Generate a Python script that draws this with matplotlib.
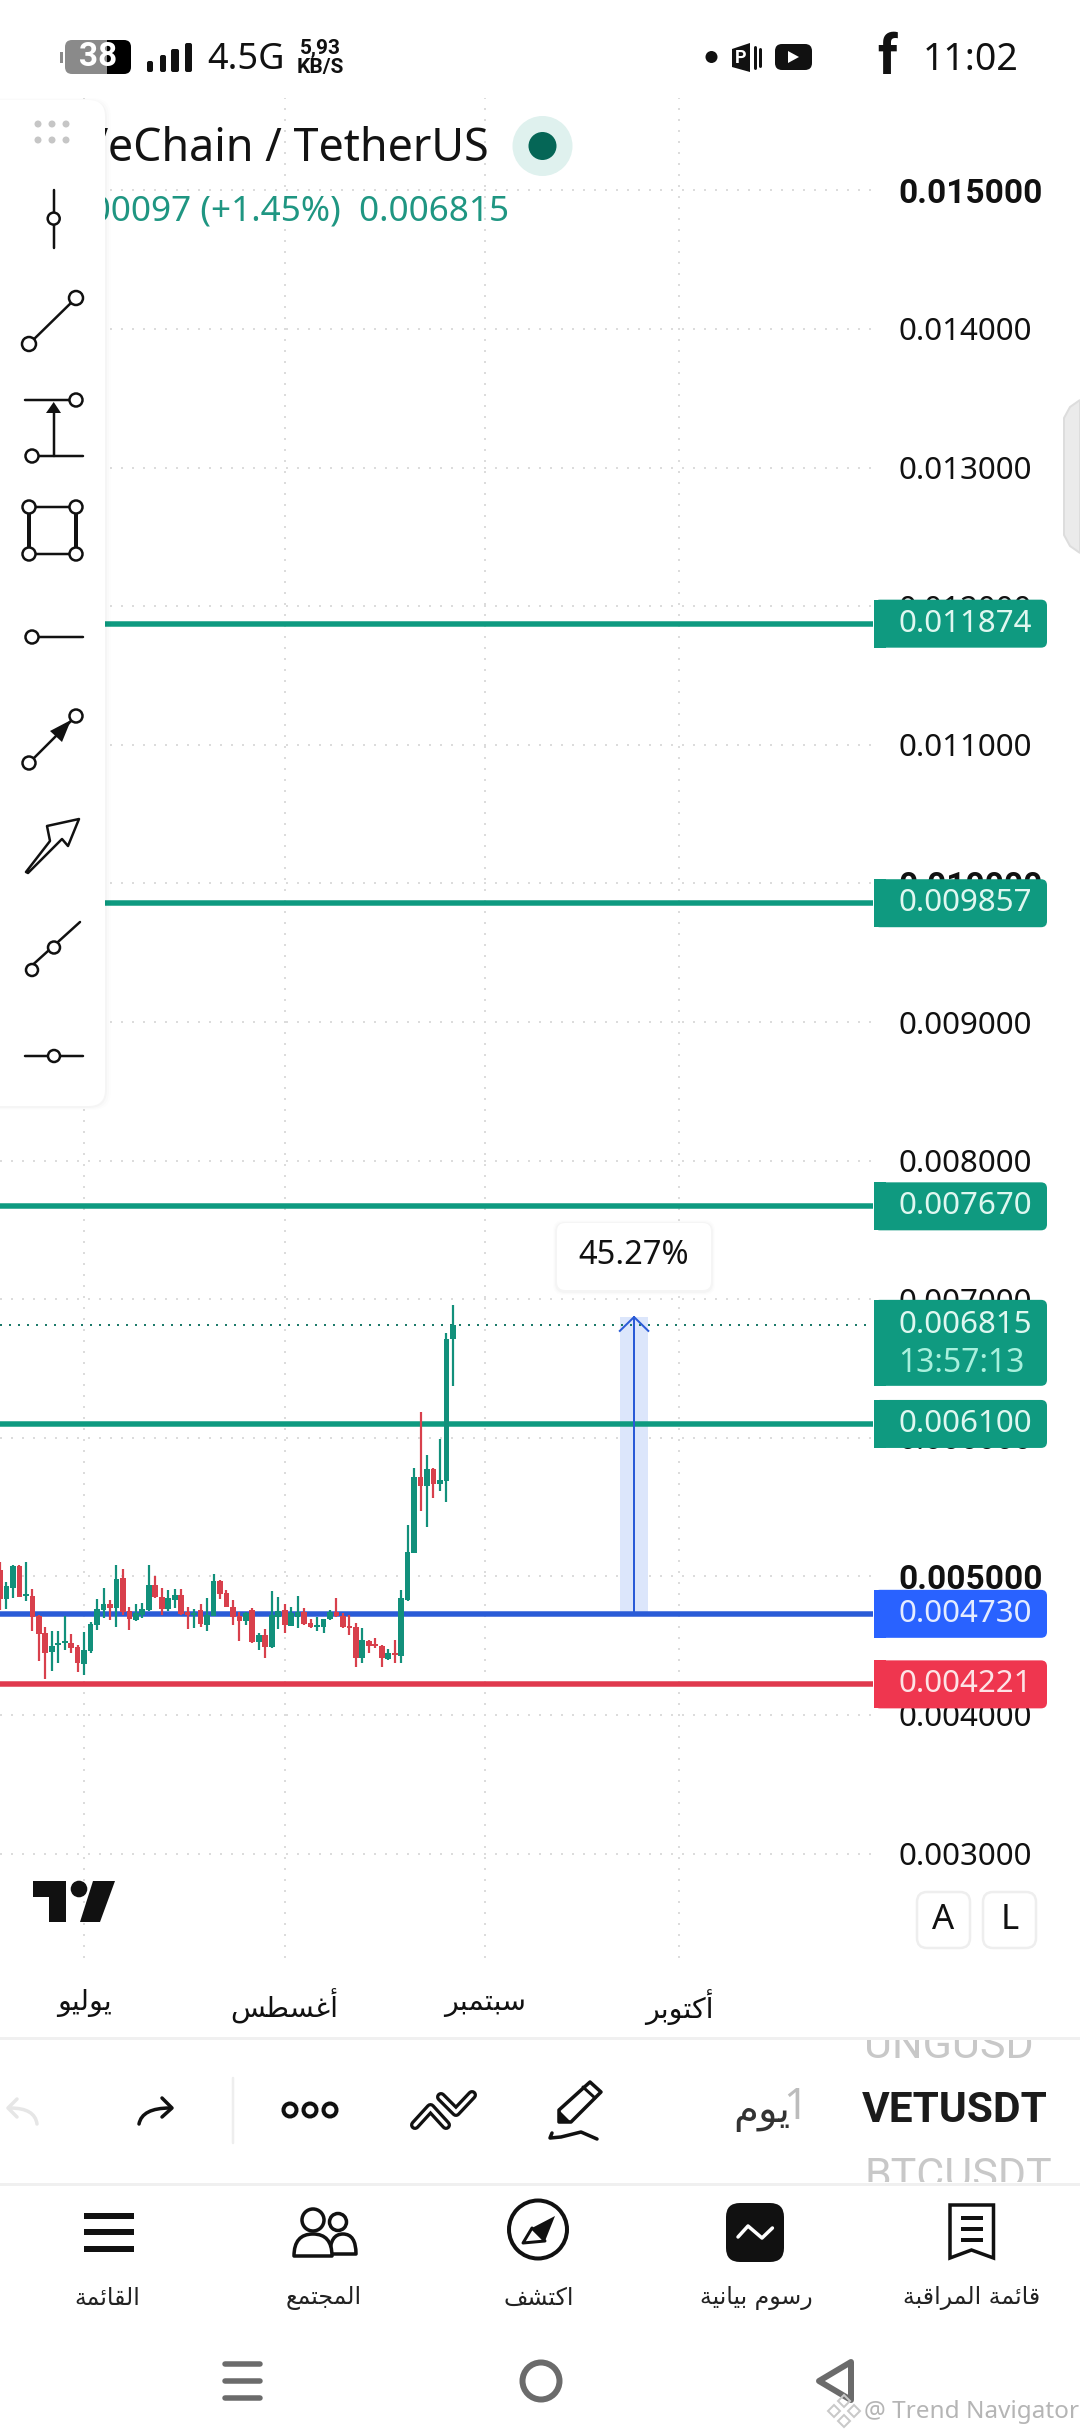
import unicodedata
import matplotlib
matplotlib.use('Agg')
import matplotlib.pyplot as plt
from matplotlib.patches import Circle, FancyBboxPatch, PathPatch, Polygon, Rectangle
from matplotlib.path import Path

plt.rcParams['font.family'] = ['Noto Sans', 'DejaVu Sans']

# prices, in millionths
opens = [5046, 4834, 4918, 5075, 4858, 4858, 4714, 4589, 4454, 4507, 4522, 4522, 4493, 4370, 4464, 4649, 4757, 4801,
         4774, 4988, 4753, 4685, 4721, 4757, 4938, 4854, 4762, 4829, 4866, 4745, 4721, 4757, 4649, 4716, 4969, 4882,
         4777, 4714, 4680, 4757, 4529, 4577, 4493, 4704, 4757, 4644, 4704, 4745, 4661, 4637, 4637, 4690, 4745, 4714,
         4642, 4632, 4413, 4536, 4512, 4498, 4401, 4445, 4428, 4829, 5171, 5719, 5654, 5775, 5666, 5690, 6713]
highs = [5106, 4962, 5082, 5082, 5104, 4906, 4721, 4637, 4606, 4606, 4714, 4582, 4505, 4596, 4673, 4837, 4914, 4829,
         5082, 5051, 4777, 4798, 4805, 5082, 5003, 4914, 4902, 4906, 4906, 4781, 4762, 4801, 4842, 5017, 4974, 4902,
         4829, 4745, 4745, 4769, 4594, 4618, 4894, 4849, 4801, 4777, 4858, 4769, 4690, 4704, 4692, 4757, 4842, 4733,
         4721, 4661, 4625, 4541, 4553, 4505, 4474, 4541, 4902, 5371, 5779, 6184, 5876, 5779, 5989, 6758, 6958]
lows = [4757, 4765, 4846, 4850, 4822, 4608, 4389, 4262, 4320, 4377, 4469, 4445, 4312, 4288, 4445, 4613, 4697, 4685,
        4635, 4721, 4613, 4680, 4697, 4753, 4845, 4721, 4750, 4769, 4721, 4623, 4630, 4632, 4608, 4712, 4839, 4777,
        4649, 4536, 4649, 4517, 4469, 4413, 4481, 4620, 4594, 4642, 4630, 4651, 4627, 4608, 4594, 4685, 4709, 4627,
        4577, 4349, 4377, 4450, 4481, 4349, 4397, 4373, 4377, 4825, 5167, 5474, 5359, 5563, 5618, 5539, 6376]
closes = [4839, 4930, 5077, 4854, 4870, 4709, 4584, 4450, 4498, 4517, 4534, 4483, 4377, 4469, 4656, 4762, 4801, 4769,
          4981, 4745, 4690, 4738, 4762, 4938, 4849, 4762, 4842, 4866, 4728, 4721, 4733, 4656, 4721, 4967, 4873, 4781,
          4704, 4680, 4738, 4529, 4577, 4490, 4721, 4753, 4649, 4738, 4745, 4656, 4632, 4649, 4690, 4745, 4714, 4632,
          4630, 4413, 4541, 4498, 4500, 4409, 4450, 4433, 4842, 5173, 5719, 5654, 5772, 5666, 5695, 6710, 6815]

price_ticks = [0.015, 0.014, 0.013, 0.012, 0.011, 0.010, 0.009, 0.008, 0.007, 0.006, 0.005, 0.004, 0.003]
bold_ticks = [0.015, 0.010, 0.005]
month_positions = [13, 44, 75, 105]
month_labels = ['يوليو', 'أغسطس', 'سبتمبر', 'أكتوبر']

green_levels = [0.011874, 0.009857, 0.007670, 0.006100]
last_price = 0.006815
countdown = '13:57:13'
blue_level = 0.004730
red_level = 0.004221
measure_pct = 45.27
measure_pos = 98

nav_labels = ['القائمة', 'المجتمع', 'اكتشف', 'رسوم بيانية', 'قائمة المراقبة']
nav_centers = [107.6, 323.7, 539, 756, 971.5]

UP = '#12907b'
DOWN = '#d8404c'
TEAL = '#0e9a80'
BLUE = '#2a5bd7'
RED = '#e0394d'
INK = '#111111'
GRID = '#dcdcdc'
W, H = 1080, 2436


def px(n):
    return n * 0.72


def shape_arabic(s):
    # matplotlib has no shaper, pick presentation forms and lay out in visual order
    forms = {}
    for cp in range(0xFE70, 0xFEFD):
        d = unicodedata.decomposition(chr(cp)).split()
        if len(d) == 2:
            forms[(chr(int(d[1], 16)), d[0].strip('<>'))] = chr(cp)
    letters = {k[0] for k in forms}
    no_next = set('اأإآدذرزوؤةى')
    out = []
    for i, c in enumerate(s):
        if c not in letters:
            out.append(c)
            continue
        prev = s[i - 1] if i > 0 else ''
        nxt = s[i + 1] if i + 1 < len(s) else ''
        jp = prev in letters and prev not in no_next
        jn = c not in no_next and nxt in letters
        form = 'medial' if jp and jn else 'final' if jp else 'initial' if jn else 'isolated'
        out.append(forms.get((c, form), c))
    return ''.join(reversed(out))


fig = plt.figure(figsize=(W / 100, H / 100), dpi=100, facecolor='white')

# chart axes, one candle is 6.47 px wide, 0.001 is 138.6 px tall
ax = fig.add_axes([0, 1 - 1958 / H, 873 / W, (1958 - 98) / H])
ax.set_xlim(0, 873 / 6.47)
ax.set_ylim(0.004 - 243 / 138600, 0.004 + 1617 / 138600)
for s in ax.spines.values():
    s.set_visible(False)
ax.yaxis.tick_right()
ax.set_yticks(price_ticks)
ax.set_yticklabels([f'{v:.6f}' for v in price_ticks])
ax.set_xticks(month_positions)
ax.set_xticklabels([shape_arabic(m) for m in month_labels], family='DejaVu Sans', fontsize=20.5, color=INK)
ax.tick_params(axis='y', length=0, pad=18, labelsize=22.5, labelcolor=INK)
ax.tick_params(axis='x', length=0, pad=22)
for lab, v in zip(ax.get_yticklabels(), price_ticks):
    if v in bold_ticks:
        lab.set_fontfamily('Roboto')
        lab.set_fontweight('bold')
        lab.set_fontsize(24)
ax.grid(True, color=GRID, lw=px(2), ls=(0, (1, 4.5)))
ax.set_axisbelow(True)

xs = list(range(len(opens)))
for x, o, h, l, c in zip(xs, opens, highs, lows, closes):
    col = UP if c >= o else DOWN
    ax.vlines(x, l / 1e6, h / 1e6, color=col, lw=px(2.2), zorder=6)
    ax.bar(x, abs(c - o) / 1e6, bottom=min(o, c) / 1e6, width=0.88, color=col, lw=0, zorder=6)

for lv in green_levels:
    ax.axhline(lv, color=TEAL, lw=px(5.5), zorder=4)
ax.axhline(blue_level, color=BLUE, lw=px(5.5), zorder=4)
ax.axhline(red_level, color=RED, lw=px(5.5), zorder=4)
ax.axhline(last_price, color='#1c7a6a', lw=px(2), ls=(0, (1, 3.5)), zorder=3)

measure_top = blue_level * (1 + measure_pct / 100)
ax.fill_between([measure_pos - 2.2, measure_pos + 2.2], blue_level, measure_top, color='#dce6fb', lw=0, zorder=2)
ax.plot([measure_pos, measure_pos], [blue_level, measure_top], color=BLUE, lw=px(2), zorder=5)
ax.plot([measure_pos - 2.2, measure_pos, measure_pos + 2.2], [measure_top - 0.0001, measure_top, measure_top - 0.0001],
        color=BLUE, lw=px(2), zorder=5)

# everything around the chart goes in a pixel canvas on top
ui = fig.add_axes([0, 0, 1, 1], facecolor='none')
ui.set_xlim(0, W)
ui.set_ylim(H, 0)
ui.axis('off')


def y_of(p):
    return H - ax.transData.transform((0, p))[1]


def label(x, y, s, size, color=INK, weight='normal', ha='center', family=None, z=20, **kw):
    kw2 = {'family': family} if family else {}
    return ui.text(x, y, s, fontsize=size, color=color, fontweight=weight, ha=ha, va='center', zorder=z, **kw2, **kw)


def box(x0, y0, x1, y1, r=6, fc=INK, ec='none', lw=0, z=10):
    p = FancyBboxPatch((x0 + r, y0 + r), x1 - x0 - 2 * r, y1 - y0 - 2 * r, boxstyle=f'round,pad={r},rounding_size={r}',
                       fc=fc, ec=ec, lw=lw, zorder=z)
    ui.add_patch(p)
    return p


def tag(y0, y1, fc):
    # square on the chart side, round on the outer side
    box(874, y0, 1047, y1, fc=fc)
    ui.add_patch(Rectangle((874, y0), 12, y1 - y0, fc=fc, zorder=10))


def line(pts, color=INK, w=2.5, z=30):
    ui.plot([a for a, _ in pts], [b for _, b in pts], color=color, lw=px(w), zorder=z,
            solid_capstyle='round', solid_joinstyle='round')


def dot(x, y, r, fc='white', ec=INK, w=2.5, z=31):
    ui.add_patch(Circle((x, y), r, fc=fc, ec=ec, lw=px(w), zorder=z))


def curve(verts, codes, color=INK, w=3.5, z=30):
    ui.add_patch(PathPatch(Path(verts, codes), fc='none', ec=color, lw=px(w), capstyle='round', joinstyle='round', zorder=z))


def dome(x0, y0, x1, y1, z):
    xm = (x0 + x1) / 2
    verts = [(x0, y1), (x0, y0), (xm, y0), (x1, y0), (x1, y1), (x0, y1)]
    codes = [Path.MOVETO, Path.CURVE3, Path.CURVE3, Path.CURVE3, Path.CURVE3, Path.CLOSEPOLY]
    ui.add_patch(PathPatch(Path(verts, codes), fc='white', ec=INK, lw=px(3.5), joinstyle='round', zorder=z))


# price tags
for lv in green_levels:
    yc = y_of(lv)
    tag(yc - 24, yc + 24, '#0f9a80')
    label(898, yc, f'{lv:.6f}', 22.5, color='#dff7f0', ha='left')
yc = y_of(last_price)
tag(yc - 25, yc + 61, '#0f9a80')
label(898, yc, f'{last_price:.6f}', 22.5, color='#dff7f0', ha='left')
label(898, yc + 39, countdown, 23, color='#a9f0dd', ha='left')
yc = y_of(blue_level)
tag(yc - 24, yc + 24, '#2962ff')
label(898, yc, f'{blue_level:.6f}', 22.5, color='#e4ecff', ha='left')
yc = y_of(red_level)
tag(yc - 24, yc + 24, '#ef364f')
label(898, yc, f'{red_level:.6f}', 22.5, color='#fde3e6', ha='left')

# measure label
for i, a in enumerate([0.008, 0.012, 0.018]):
    box(557 - 4 + i, 1223 - 3 + i, 711 + 4 - i, 1290 + 5 - i, r=10, fc='black', z=8).set_alpha(a)
box(557, 1223, 711, 1290, r=8, fc='white', z=9)
label(634, 1256, f'{measure_pct}%', 23.5)

# symbol header, the toolbar sits over its left end
label(489, 149, 'VeChain / TetherUS', 32.3, ha='right', color='#131313', z=5)
label(509, 211, '0.000097 (+1.45%)  0.006815', 25.3, ha='right', color='#1f9682', z=5)
ui.add_patch(Circle((542.5, 146), 30, fc='#dff1ee', ec='none', zorder=5))
ui.add_patch(Circle((542.5, 146), 14, fc='#056656', ec='none', zorder=6))

# tv logo
ui.add_patch(Polygon([(33, 1881), (66, 1881), (66, 1922), (49, 1922), (49, 1897), (33, 1897)], fc=INK, zorder=10))
ui.add_patch(Circle((79, 1889), 8.3, fc=INK, zorder=10))
ui.add_patch(Polygon([(93, 1881), (115, 1881), (100, 1922), (80, 1922)], fc=INK, zorder=10))

# auto / log buttons
box(917, 1892, 970, 1948, r=10, fc='white', ec='#eeeeee', lw=px(2.5))
box(983, 1892, 1036, 1948, r=10, fc='white', ec='#eeeeee', lw=px(2.5))
label(943.5, 1920, 'A', 25)
label(1009.5, 1920, 'L', 25)

# side handle on the right edge
ui.add_patch(Polygon([(1080, 400), (1070, 407), (1064, 418), (1064, 535), (1070, 546), (1080, 553)],
                     fc='#ebebeb', ec='#dddddd', lw=px(2), zorder=10))

# drawing toolbar
for i, a in enumerate([0.008, 0.012, 0.018]):
    box(-20, 100 - 2 + i, 111 - 2 * i, 1110 - i, r=18, fc='black', z=14).set_alpha(a)
box(-20, 100, 105, 1106, r=16, fc='white', z=15)
for gx in (38, 52, 66):
    for gy in (124, 140):
        ui.add_patch(Circle((gx, gy), 3.5, fc='#c6c6c6', zorder=30))
line([(53.7, 190), (53.7, 248)])
dot(53.7, 218.6, 6)
line([(29, 344), (76, 298)])
dot(29, 344, 7)
dot(76, 298, 7)
line([(25, 400), (76, 400)])
dot(76, 400, 6.5)
line([(32, 456), (83, 456)])
dot(32, 456, 6.5)
line([(53.7, 456), (53.7, 410)])
ui.add_patch(Polygon([(53.7, 402), (46, 413), (61, 413)], fc=INK, zorder=31))
line([(29, 507), (76, 507), (76, 554), (29, 554), (29, 507)])
line([(29, 507), (29, 554)], w=4)
line([(76, 507), (76, 554)], w=4)
for p in [(29, 507), (76, 507), (29, 554), (76, 554)]:
    dot(p[0], p[1], 6.5)
line([(32, 637), (83, 637)])
dot(32, 637, 6.5)
line([(29, 763), (76, 716)])
ui.add_patch(Polygon([(50, 731), (71, 720), (62, 742)], fc=INK, zorder=31))
dot(29, 763, 6.5)
dot(76, 716, 6.5)
ui.add_patch(Polygon([(26, 872), (50, 841), (47, 826), (79, 819), (68, 846), (62, 839), (28, 873)],
                     fc='white', ec=INK, lw=px(2.5), joinstyle='round', zorder=31))
line([(27, 970), (80, 922)])
dot(32, 970, 6)
dot(54, 947.5, 6)
line([(25, 1056), (83, 1056)])
dot(54, 1056, 6)

# status bar
ui.add_patch(Rectangle((60, 52), 3, 11, fc='#8a8a8a', zorder=10))
box(95, 40, 131, 74, r=7, fc='black', z=11)
box(65, 40, 107, 74, r=7, fc='#8a8a8a', z=12)
ui.add_patch(Rectangle((98, 40), 9, 34, fc='#8a8a8a', zorder=12))
label(98, 57, '38', 24, color='white', weight='bold', family='Roboto')
for x0, x1, y0 in [(147, 153, 61), (160, 166, 55), (171, 179, 49), (185, 192, 43)]:
    box(x0, y0, x1, 72, r=2)
label(207, 60, '4.5G', 26, ha='left', color='#111111')
label(320, 48, '5,93', 15, weight='bold', family='Roboto')
label(320, 68, 'KB/S', 15, weight='bold', family='Roboto')
ui.add_patch(Circle((711.5, 57), 6, fc=INK, zorder=10))
ui.add_patch(Polygon([(732, 49), (750, 43), (750, 72), (732, 67)], fc=INK, zorder=10))
label(741, 58, 'P', 13, color='white', weight='bold', family='Roboto')
line([(755, 47), (755, 68)], w=3, z=10)
line([(760, 49), (760, 66)], w=3, z=10)
box(775, 44, 812, 70, r=7)
ui.add_patch(Polygon([(788, 51), (788, 63), (799, 57)], fc='white', zorder=12))
label(887, 59, 'f', 40, weight='bold', family='Roboto')
label(971, 60, '11:02', 27, color='#111111')

# bottom panels
line([(0, 2038), (W, 2038)], color='#f0f0f0', w=3, z=9)
line([(0, 2184), (W, 2184)], color='#f0f0f0', w=3, z=9)

undo = [(37, 2124), (35, 2108), (10, 2108)]
curve(undo, [Path.MOVETO, Path.CURVE3, Path.CURVE3], color='#e6e6e6')
line([(17, 2099), (8, 2108), (17, 2117)], color='#e6e6e6', w=3.5)
redo = [(139, 2124), (142, 2108), (170, 2108)]
curve(redo, [Path.MOVETO, Path.CURVE3, Path.CURVE3])
line([(162, 2098), (172, 2108), (162, 2117)], w=3.5)
line([(232.5, 2078), (232.5, 2143)], color='#eeeeee', w=2.5)
for cx in (290, 310, 330):
    dot(cx, 2110, 6.5, w=4)
for pts in ([(415, 2125), (430.5, 2108), (446, 2125)], [(441, 2097), (456, 2112), (472, 2095)]):
    line(pts, w=10)
    line(pts, color='white', w=3.5, z=31)
ui.add_patch(Polygon([(559, 2122), (559, 2110), (590, 2082), (601, 2092), (571, 2122)],
                     fc='white', ec=INK, lw=px(3.5), joinstyle='round', zorder=30))
ui.add_patch(Polygon([(559, 2122), (559, 2110), (571, 2122)], fc=INK, zorder=31))
line([(583, 2087), (595, 2098)], w=3)
line([(552, 2133), (550, 2138), (561, 2137), (581, 2132), (597, 2139)], w=3.5)

label(808, 2108, '1', 31, color='#bcbcbc', ha='right')
label(762, 2112, shape_arabic('يوم'), 29, color='#333333', family='DejaVu Sans')
label(862, 2110, 'VETUSDT', 30.5, weight='bold', ha='left', family='Roboto', color='#1b1b1b')
clip = Rectangle((0, 2040), W, 142, transform=ui.transData)
for s, yt in [('UNGUSD', 2046), ('BTCUSDT', 2176)]:
    t = label(864, yt, s, 31, ha='left', family='Roboto', color='#c8c8c8', clip_on=True)
    t.set_clip_path(clip)

# nav icons
for yb in (2216, 2232, 2249):
    ui.add_patch(Rectangle((84, yb - 2.7), 50, 5.4, fc=INK, zorder=30))
dot(338, 2222, 8.5, w=3.5, z=29)
dome(330, 2234, 356, 2254, 29)
dot(313, 2220, 11, w=3.5)
dome(294, 2234, 332, 2256, 31)
dot(538, 2229.5, 29, w=4)
ui.add_patch(Polygon([(555, 2216), (532, 2228), (545, 2241)], fc=INK, zorder=32))
ui.add_patch(Polygon([(532, 2228), (523, 2243), (545, 2241)], fc='white', ec=INK, lw=px(3), joinstyle='round', zorder=32))
box(726, 2203, 784, 2262, r=14, fc=INK)
line([(738, 2237), (748, 2226), (762, 2238), (772.4, 2228)], color='white', w=3.5)
ui.add_patch(Polygon([(950, 2205), (993.5, 2205), (993.5, 2258), (971.5, 2250), (950, 2258)],
                     fc='white', ec=INK, lw=px(3.5), zorder=30))
for yb in (2218, 2229, 2240):
    ui.add_patch(Rectangle((961, yb - 2), 21.5, 4, fc=INK, zorder=31))
for x, s in zip(nav_centers, nav_labels):
    label(x, 2298, shape_arabic(s), 17, family='DejaVu Sans', color='#222222')

# android nav bar
for yb in (2364, 2381, 2398):
    line([(225, yb), (260, yb)], color='#6b6b6b', w=5.5)
dot(541, 2381, 18.5, ec='#6b6b6b', w=6)
ui.add_patch(Polygon([(819, 2381), (851, 2362), (851, 2400)], fc='none', ec='#6b6b6b', lw=px(6), joinstyle='round', zorder=30))

# watermark
for a, b in [(844, 2401), (834, 2411), (854, 2411), (844, 2421)]:
    ui.add_patch(Polygon([(a, b - 6), (a + 6, b), (a, b + 6), (a - 6, b)], fc='none', ec='#c9c9c9', lw=px(2), zorder=33))
label(864, 2412, '@ Trend Navigator', 17.5, ha='left', color='#b5b5b5', z=34)

fig.savefig('out.png', dpi=100)
